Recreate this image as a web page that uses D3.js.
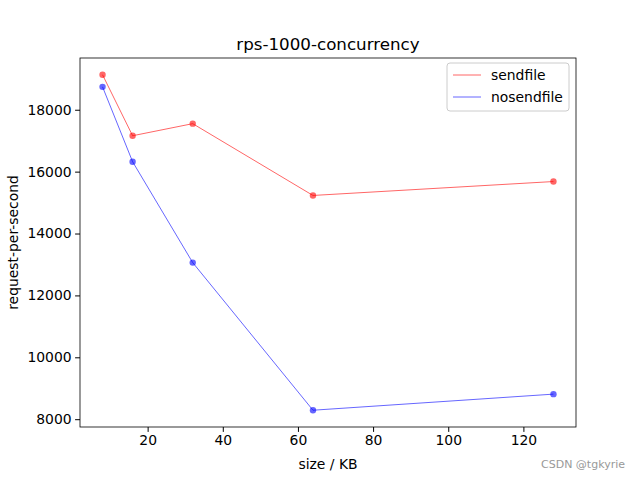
<!DOCTYPE html>
<html>
<head>
<meta charset="utf-8">
<script src="https://cdn.jsdelivr.net/npm/d3@7"></script>
<style>
body { margin: 0; background: #fff; }
text { font-family: "DejaVu Sans", sans-serif; }
</style>
</head>
<body>
<div id="chart"></div>
<script>
var sizes = [8, 16, 32, 64, 128],
    sendfile = [19130, 17160, 17550, 15230, 15680],
    nosendfile = [18740, 16320, 13060, 8290, 8810],
    xTicks = [20, 40, 60, 80, 100, 120],
    yTicks = [8000, 10000, 12000, 14000, 16000, 18000];

var series = [
  {name: "sendfile", values: sendfile, color: "red"},
  {name: "nosendfile", values: nosendfile, color: "blue"}
];

var W = 640, H = 480,
    margin = {top: 58, right: 64, bottom: 53, left: 80},
    width = W - margin.left - margin.right,
    height = H - margin.top - margin.bottom;

var svg = d3.select("#chart").append("svg")
    .attr("width", W).attr("height", H);

var x = d3.scaleLinear().domain([2, 134]).range([0, width]),
    y = d3.scaleLinear().domain([7748, 19672]).range([height, 0]);

var g = svg.append("g")
    .attr("transform", "translate(" + margin.left + "," + margin.top + ")");

g.append("g").attr("transform", "translate(0," + height + ")")
  .call(d3.axisBottom(x).tickValues(xTicks).tickFormat(d3.format("d")).tickSize(4.9).tickPadding(3.5))
  .call(a => a.selectAll("text").attr("font-size", 13.9).attr("fill", "#000"));
g.append("g")
  .call(d3.axisLeft(y).tickValues(yTicks).tickFormat(d3.format("d")).tickSize(4.9).tickPadding(3.5))
  .call(a => a.selectAll("text").attr("font-size", 13.9).attr("fill", "#000"));
g.selectAll(".domain").remove();
g.append("rect").attr("width", width).attr("height", height)
  .attr("fill", "none").attr("stroke", "#000").attr("stroke-width", 0.8);

var line = d3.line().x((d, i) => x(sizes[i])).y(d => y(d));

series.forEach(function(s) {
  g.append("path").datum(s.values).attr("d", line)
    .attr("fill", "none").attr("stroke", s.color).attr("stroke-opacity", 0.6);
  g.selectAll(null).data(s.values).enter().append("circle")
    .attr("cx", (d, i) => x(sizes[i])).attr("cy", d => y(d)).attr("r", 3.2)
    .attr("fill", s.color).attr("fill-opacity", 0.6);
});

svg.append("text").attr("x", margin.left + width / 2).attr("y", 50)
  .attr("text-anchor", "middle").attr("font-size", 16.7).text("rps-1000-concurrency");
svg.append("text").attr("x", margin.left + width / 2).attr("y", 469)
  .attr("text-anchor", "middle").attr("font-size", 13.9).text("size / KB");
svg.append("text").attr("transform", "translate(18," + (margin.top + height / 2) + ") rotate(-90)")
  .attr("text-anchor", "middle").attr("font-size", 13.9).text("request-per-second");

var lg = svg.append("g").attr("transform", "translate(447,63)");
lg.append("rect").attr("width", 122).attr("height", 48).attr("rx", 3)
  .attr("fill", "#fff").attr("fill-opacity", 0.8).attr("stroke", "#ccc");
series.forEach(function(s, i) {
  var yy = 12 + i * 22;
  lg.append("line").attr("x1", 6).attr("x2", 34).attr("y1", yy).attr("y2", yy)
    .attr("stroke", s.color).attr("stroke-opacity", 0.6);
  lg.append("text").attr("x", 44).attr("y", yy + 5).attr("font-size", 13.9).text(s.name);
});

svg.append("text").attr("x", 625).attr("y", 468).attr("text-anchor", "end")
  .attr("font-size", 11).attr("fill", "#999").text("CSDN @tgkyrie");
</script>
</body>
</html>
